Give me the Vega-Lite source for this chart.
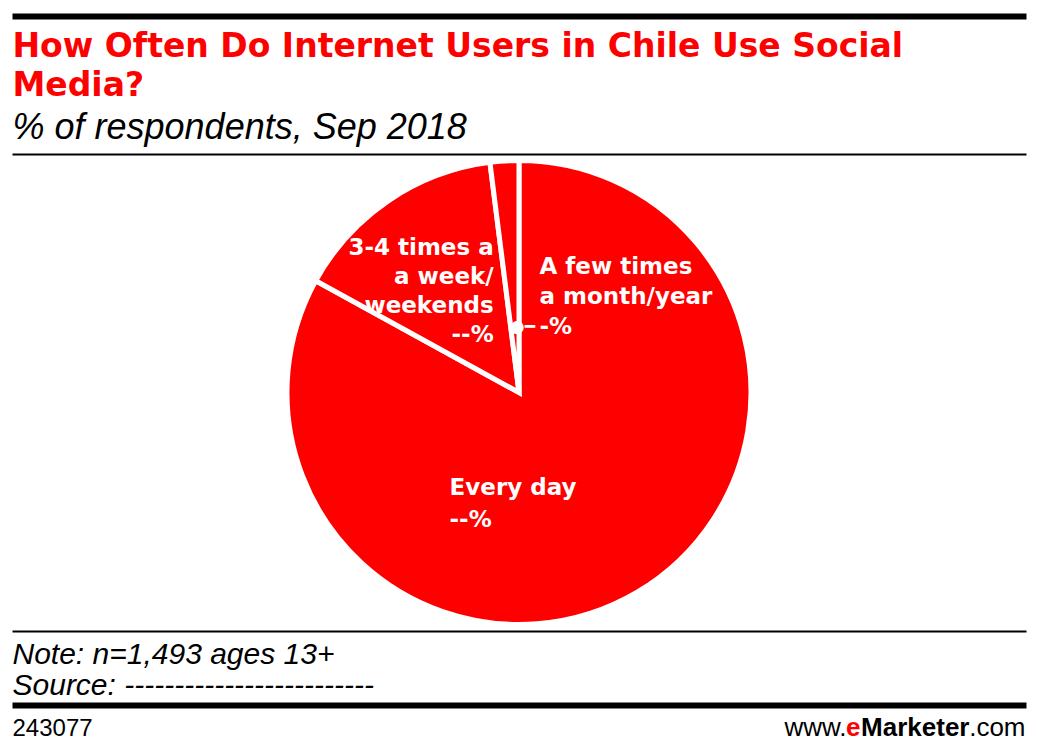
{
  "$schema": "https://vega.github.io/schema/vega-lite/v6.json",
  "width": 1014,
  "height": 477,
  "autosize": {"type": "none"},
  "padding": {"left": 12, "top": 154, "right": 12, "bottom": 123},
  "background": "#ffffff",
  "config": {"view": {"stroke": null}},
  "data": {
    "values": [
      {"frequency": "Every day", "share": 83},
      {"frequency": "3-4 times a week/weekends", "share": 15},
      {"frequency": "A few times a month/year", "share": 2}
    ]
  },
  "resolve": {"scale": {"x": "independent", "y": "independent"}},
  "layer": [
    {
      "mark": {"type": "arc", "outerRadius": 232, "fill": "#ff0000", "stroke": "#ffffff", "strokeWidth": 5},
      "encoding": {
        "theta": {"field": "share", "type": "quantitative", "stack": true},
        "order": {"field": "share", "sort": "descending"}
      }
    },
    {
      "mark": {"type": "text", "radius": 119, "dx": -130, "align": "left", "baseline": "alphabetic",
               "font": "DejaVu Sans", "fontWeight": "bold", "fontSize": 23, "fill": "#ffffff", "lineHeight": 32},
      "encoding": {
        "theta": {"field": "share", "type": "quantitative", "stack": true},
        "order": {"field": "share", "sort": "descending"},
        "text": {"condition": {"test": "datum.frequency === 'Every day'", "value": ["Every day", "--%"]}, "value": ""}
      }
    },
    {
      "mark": {"type": "text", "radius": 166, "dx": 68, "align": "right", "baseline": "alphabetic",
               "font": "DejaVu Sans", "fontWeight": "bold", "fontSize": 23, "fill": "#ffffff", "lineHeight": 29},
      "encoding": {
        "theta": {"field": "share", "type": "quantitative", "stack": true},
        "order": {"field": "share", "sort": "descending"},
        "text": {"condition": {"test": "datum.frequency === '3-4 times a week/weekends'", "value": ["3-4 times a", "a week/", "weekends", "--%"]}, "value": ""}
      }
    },
    {
      "mark": {"type": "text", "radius": 119, "dx": 28, "align": "left", "baseline": "alphabetic",
               "font": "DejaVu Sans", "fontWeight": "bold", "fontSize": 23, "fill": "#ffffff", "lineHeight": 30},
      "encoding": {
        "theta": {"field": "share", "type": "quantitative", "stack": true},
        "order": {"field": "share", "sort": "descending"},
        "text": {"condition": {"test": "datum.frequency === 'A few times a month/year'", "value": ["A few times", "a month/year", "-%"]}, "value": ""}
      }
    },
    {
      "mark": {"type": "text", "radius": 66, "dx": -5, "align": "left", "baseline": "middle",
               "font": "DejaVu Sans", "fontSize": 17, "fill": "#ffffff"},
      "encoding": {
        "theta": {"field": "share", "type": "quantitative", "stack": true},
        "order": {"field": "share", "sort": "descending"},
        "text": {"condition": {"test": "datum.frequency === 'A few times a month/year'", "value": "●━"}, "value": ""}
      }
    },
    {
      "mark": {"type": "point", "opacity": 0},
      "encoding": {
        "x": {"field": "share", "type": "quantitative", "axis": {
          "orient": "top", "offset": 0, "domain": true, "domainColor": "#000000", "domainWidth": 2,
          "ticks": false, "labels": false, "grid": false,
          "title": "% of respondents, Sep 2018", "titleFont": "Liberation Sans", "titleFontStyle": "italic",
          "titleFontWeight": "normal", "titleFontSize": 36, "titleColor": "#000000",
          "titleX": 0, "titleY": -16, "titleAlign": "left", "titleBaseline": "alphabetic", "titleAngle": 0}},
        "y": {"field": "share", "type": "quantitative", "axis": {
          "orient": "left", "domain": false, "ticks": false, "labels": false, "grid": false,
          "title": ["How Often Do Internet Users in Chile Use Social", "Media?"],
          "titleFont": "DejaVu Sans", "titleFontWeight": "bold", "titleFontSize": 33, "titleColor": "#ff0000",
          "titleX": 0, "titleY": -98, "titleAlign": "left", "titleBaseline": "alphabetic", "titleAngle": 0,
          "titleLineHeight": 39}}
      }
    },
    {
      "mark": {"type": "point", "opacity": 0},
      "encoding": {
        "x": {"field": "share", "type": "quantitative", "axis": {
          "orient": "top", "offset": 138, "domain": true, "domainColor": "#000000", "domainWidth": 6,
          "ticks": false, "labels": false, "grid": false, "title": null}},
        "y": {"field": "share", "type": "quantitative", "axis": {
          "orient": "left", "domain": false, "ticks": false, "labels": false, "grid": false,
          "title": "www.", "titleFont": "Liberation Sans", "titleFontWeight": "normal", "titleFontSize": 26,
          "titleColor": "#000000", "titleX": 834, "titleY": 581, "titleAlign": "right",
          "titleBaseline": "alphabetic", "titleAngle": 0}}
      }
    },
    {
      "mark": {"type": "point", "opacity": 0},
      "encoding": {
        "x": {"field": "share", "type": "quantitative", "axis": {
          "orient": "bottom", "offset": 0, "domain": true, "domainColor": "#000000", "domainWidth": 2,
          "ticks": false, "labels": false, "grid": false,
          "title": ["Note: n=1,493 ages 13+", "Source: -------------------------"],
          "titleFont": "Liberation Sans", "titleFontStyle": "italic", "titleFontWeight": "normal",
          "titleFontSize": 30, "titleColor": "#000000", "titleX": 0, "titleY": 32, "titleAlign": "left",
          "titleBaseline": "alphabetic", "titleAngle": 0, "titleLineHeight": 31}},
        "y": {"field": "share", "type": "quantitative", "axis": {
          "orient": "left", "domain": false, "ticks": false, "labels": false, "grid": false,
          "title": "e", "titleFont": "Liberation Sans", "titleFontWeight": "bold", "titleFontSize": 26,
          "titleColor": "#ff0000", "titleX": 848, "titleY": 581, "titleAlign": "right",
          "titleBaseline": "alphabetic", "titleAngle": 0}}
      }
    },
    {
      "mark": {"type": "point", "opacity": 0},
      "encoding": {
        "x": {"field": "share", "type": "quantitative", "axis": {
          "orient": "bottom", "offset": 74, "domain": true, "domainColor": "#000000", "domainWidth": 6,
          "ticks": false, "labels": false, "grid": false,
          "title": "243077", "titleFont": "Liberation Sans", "titleFontWeight": "normal", "titleFontSize": 24,
          "titleColor": "#000000", "titleX": 0, "titleY": 30, "titleAlign": "left",
          "titleBaseline": "alphabetic", "titleAngle": 0}},
        "y": {"field": "share", "type": "quantitative", "axis": {
          "orient": "left", "domain": false, "ticks": false, "labels": false, "grid": false,
          "title": "Marketer", "titleFont": "Liberation Sans", "titleFontWeight": "bold", "titleFontSize": 26,
          "titleColor": "#000000", "titleX": 957, "titleY": 581, "titleAlign": "right",
          "titleBaseline": "alphabetic", "titleAngle": 0}}
      }
    },
    {
      "mark": {"type": "point", "opacity": 0},
      "encoding": {
        "x": {"field": "share", "type": "quantitative", "axis": {
          "orient": "bottom", "offset": 0, "domain": false, "ticks": false, "labels": false, "grid": false,
          "title": ".com", "titleFont": "Liberation Sans", "titleFontWeight": "normal", "titleFontSize": 26,
          "titleColor": "#000000", "titleX": 1013, "titleY": 104, "titleAlign": "right",
          "titleBaseline": "alphabetic", "titleAngle": 0}},
        "y": {"field": "share", "type": "quantitative", "axis": null}
      }
    }
  ]
}
